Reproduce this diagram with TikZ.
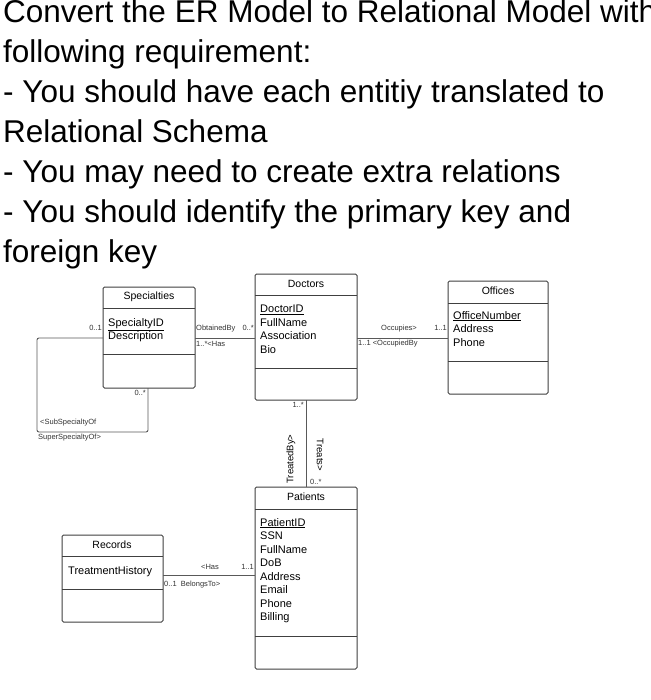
\documentclass[tikz,border=0pt]{standalone}
\usepackage{fontspec}
\setmainfont{Liberation Sans}
\begin{document}
\begin{tikzpicture}[x=1pt,y=-1pt,
  bx/.style={draw=black!75,line width=1pt,rounded corners=1.5pt},
  dv/.style={draw=black!75,line width=1pt},
  cn/.style={draw=black!65,line width=0.9pt},
  tt/.style={font=\fontsize{10.5}{12}\selectfont,inner sep=0pt},
  attr/.style={font=\fontsize{11}{13.5}\selectfont,align=left,anchor=north west,inner sep=0pt},
  sm/.style={font=\fontsize{7.5}{8}\selectfont,text=black!80,inner sep=0pt},
  hd/.style={font=\fontsize{31.5}{40}\selectfont,anchor=north west,inner sep=0pt,align=left}]
\useasboundingbox (0,0) rectangle (650,700);
\fill[white] (0,0) rectangle (650,700);
\node[hd] (h) at (3,-1) {Convert the ER Model to Relational Model with\\following requirement:\\- You should have each entitiy translated to\\Relational Schema\\- You may need to create extra relations\\- You should identify the primary key and\\foreign key};
% Specialties
\draw[bx] (103,287) rectangle (195,388);
\draw[dv] (103,308) -- (195,308); \draw[dv] (103,354) -- (195,354);
\node[tt] (spt) at (149,297) {Specialties};
\node[attr] (spa) at (108,318) {\underline{SpecialtyID}\\Description};
% Doctors
\draw[bx] (255,274) rectangle (357,400);
\draw[dv] (255,295) -- (357,295); \draw[dv] (255,368) -- (357,368);
\node[tt] (dt) at (306,284) {Doctors};
\node[attr] (da) at (260,305) {\underline{DoctorID}\\FullName\\Association\\Bio};
% Offices
\draw[bx] (448,281) rectangle (548,394);
\draw[dv] (448,303) -- (548,303); \draw[dv] (448,361) -- (548,361);
\node[tt] (ot) at (498,291) {Offices};
\node[attr] (oa) at (453,311) {\underline{OfficeNumber}\\Address\\Phone};
% Patients
\draw[bx] (255,487) rectangle (357,669);
\draw[dv] (255,509) -- (357,509); \draw[dv] (255,636) -- (357,636);
\node[tt] (pt) at (306,497) {Patients};
\node[attr] (pa) at (260,518) {\underline{PatientID}\\SSN\\FullName\\DoB\\Address\\Email\\Phone\\Billing};
% Records
\draw[bx] (62,535) rectangle (163,622);
\draw[dv] (62,556) -- (163,556); \draw[dv] (62,589) -- (163,589);
\node[tt] (rt) at (112,545) {Records};
\node[attr] (ra) at (68,566) {TreatmentHistory};
% connectors
\coordinate (s1) at (195,338); \coordinate (d1) at (255,338);
\coordinate (d2) at (357,338); \coordinate (o1) at (448,338);
\coordinate (s2) at (103,338); \coordinate (s3) at (148,388);
\coordinate (d3) at (306,400); \coordinate (p1) at (306,487);
\coordinate (r1) at (163,575); \coordinate (p2) at (255,575);
\draw[cn] (s1) -- (d1);
\draw[cn] (d2) -- (o1);
\draw[cn,rounded corners=2pt] (s2) -- (37,338) -- (37,432) -- (148,432) -- (s3);
\draw[cn] (d3) -- (p1);
\draw[cn] (r1) -- (p2);
% labels
\node[sm,anchor=east] (l1) at (102,328) {0..1};
\node[sm,anchor=west] (l2) at (196,329) {ObtainedBy};
\node[sm,anchor=east] (l3) at (254,328) {0..*};
\node[sm,anchor=west] (l4) at (196,344) {1..*<Has};
\node[sm,anchor=west] (l5) at (381,329) {Occupies>};
\node[sm,anchor=east] (l6) at (447,328) {1..1};
\node[sm,anchor=west] (l7) at (358,344) {1..1 <OccupiedBy};
\node[sm,anchor=east] (l8) at (146,393) {0..*};
\node[sm,anchor=west] (l9) at (40,423) {<SubSpecialtyOf};
\node[sm,anchor=west] (l10) at (38,438) {SuperSpecialtyOf>};
\node[sm,anchor=east] (l11) at (304,405) {1..*};
\node[font=\fontsize{9.5}{10}\selectfont,inner sep=0pt,rotate=90] (l12) at (291,459) {TreatedBy>};
\node[font=\fontsize{9.5}{10}\selectfont,inner sep=0pt,rotate=-90] (l13) at (320,455) {Treats>};
\node[sm,anchor=west] (l14) at (310,482) {0..*};
\node[sm] (l15) at (210,567) {<Has};
\node[sm,anchor=east] (l16) at (254,567) {1..1};
\node[sm,anchor=west] (l17) at (164,585) {0..1\ \ BelongsTo>};
\end{tikzpicture}
\end{document}
